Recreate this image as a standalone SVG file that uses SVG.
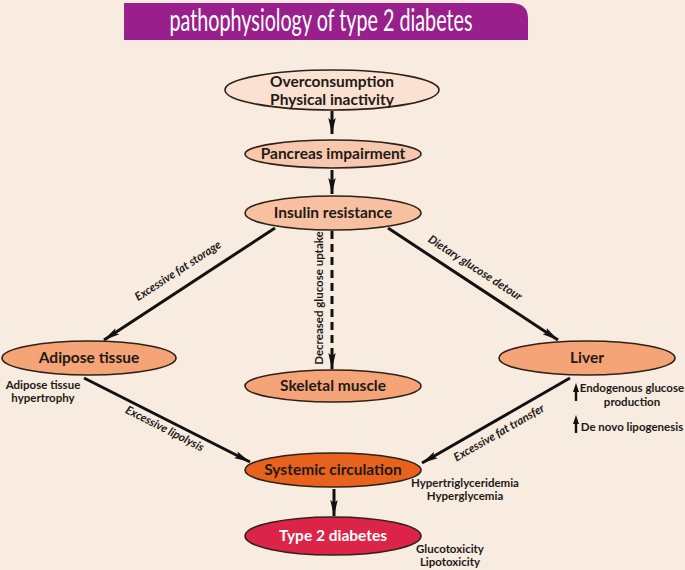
<svg xmlns="http://www.w3.org/2000/svg" width="685" height="570" viewBox="0 0 685 570">
<defs>
<style>
.node{stroke:#2e2118;stroke-width:1.6}
.t{font-family:Lato,"Liberation Sans",sans-serif;font-weight:bold;fill:#1e1a17;text-anchor:middle}
.nt{font-size:15.5px}
.lab{font-family:Lato,"Liberation Sans",sans-serif;font-weight:bold;font-style:italic;font-size:11.5px;fill:#1e1a17;text-anchor:middle}
.side{font-family:Lato,"Liberation Sans",sans-serif;font-weight:bold;font-size:11.5px;fill:#1e1a17;text-anchor:middle}
.ln{stroke:#111;stroke-width:3;fill:none}
.up{fill:#111}
</style>
<marker id="ah" viewBox="0 0 16 8" refX="16" refY="4" markerWidth="16" markerHeight="8" markerUnits="userSpaceOnUse" orient="auto">
<path d="M0,0.3 L16,4 L0,7.7 L3,4 Z" fill="#111"/>
</marker>
</defs>
<rect width="685" height="570" fill="#f8ebdf"/>
<g id="title">
<path d="M124,3 H510 Q528,3 528,18 V40 H124 Z" fill="#991f8c"/>
<text x="321" y="31" font-family="Lato,'Liberation Sans',sans-serif" font-size="30" fill="#ffffff" text-anchor="middle" textLength="303" lengthAdjust="spacingAndGlyphs">pathophysiology of type 2 diabetes</text>
</g>
<g id="connectors">
<line class="ln" x1="332" y1="111" x2="332" y2="134" marker-end="url(#ah)"/>
<line class="ln" x1="332" y1="170" x2="332" y2="194" marker-end="url(#ah)"/>
<line class="ln" x1="275" y1="228" x2="104" y2="340" marker-end="url(#ah)"/>
<line class="ln" x1="388" y1="228" x2="558" y2="340" marker-end="url(#ah)"/>
<line class="ln" x1="332" y1="231" x2="332" y2="369" stroke-dasharray="8,5" marker-end="url(#ah)"/>
<line class="ln" x1="84" y1="378" x2="250" y2="462" marker-end="url(#ah)"/>
<line class="ln" x1="570" y1="378" x2="422" y2="463" marker-end="url(#ah)"/>
<line class="ln" x1="334" y1="489" x2="334" y2="516" marker-end="url(#ah)"/>
<text class="lab" transform="translate(180,274) rotate(-33)">Excessive fat storage</text>
<text class="lab" transform="translate(473,271) rotate(33)">Dietary glucose detour</text>
<text class="lab" style="font-style:normal" transform="translate(323,298) rotate(-90)">Decreased glucose uptake</text>
<text class="lab" transform="translate(163,432) rotate(27)">Excessive lipolysis</text>
<text class="lab" transform="translate(501,436) rotate(-30)">Excessive fat transfer</text>
</g>
<g id="overconsumption">
<ellipse class="node" cx="332" cy="90" rx="107" ry="20" fill="#fbe1d2"/>
<text class="t nt" x="332" y="87">Overconsumption</text>
<text class="t nt" x="332" y="105">Physical inactivity</text>
</g>
<g id="pancreas">
<ellipse class="node" cx="333" cy="154" rx="88" ry="14" fill="#f7c8ae"/>
<text class="t nt" x="333" y="159">Pancreas impairment</text>
</g>
<g id="insulin">
<ellipse class="node" cx="333" cy="213" rx="88" ry="17" fill="#f7c0a0"/>
<text class="t nt" x="333" y="218">Insulin resistance</text>
</g>
<g id="adipose">
<ellipse class="node" cx="89" cy="358" rx="87" ry="17" fill="#f4a476"/>
<text class="t nt" x="89" y="363">Adipose tissue</text>
</g>
<g id="skeletal">
<ellipse class="node" cx="333" cy="386" rx="88" ry="16" fill="#f4a476"/>
<text class="t nt" x="333" y="391">Skeletal muscle</text>
</g>
<g id="liver">
<ellipse class="node" cx="587" cy="358" rx="88" ry="17" fill="#f4a476"/>
<text class="t nt" x="587" y="363">Liver</text>
</g>
<g id="systemic">
<ellipse class="node" cx="333" cy="470" rx="88" ry="17" fill="#e8621e"/>
<text class="t nt" x="333" y="475">Systemic circulation</text>
</g>
<g id="t2d">
<ellipse class="node" cx="333" cy="536" rx="88" ry="19" fill="#dc2449"/>
<text class="t nt" x="333" y="541" style="fill:#ffffff">Type 2 diabetes</text>
</g>
<g id="side-notes">
<text class="side" x="43" y="389">Adipose tissue</text>
<text class="side" x="43" y="402">hypertrophy</text>
<path class="up" d="M574.8,401 V392 H573 L576,383 L579,392 H577.2 V401 Z"/>
<text class="side" x="632" y="392">Endogenous glucose</text>
<text class="side" x="632" y="406">production</text>
<path class="up" d="M574.8,433 V424 H573 L576,415 L579,424 H577.2 V433 Z"/>
<text class="side" x="632" y="431">De novo lipogenesis</text>
<text class="side" x="465" y="487">Hypertriglyceridemia</text>
<text class="side" x="465" y="500">Hyperglycemia</text>
<text class="side" x="450" y="553">Glucotoxicity</text>
<text class="side" x="450" y="566">Lipotoxicity</text>
</g>
</svg>
